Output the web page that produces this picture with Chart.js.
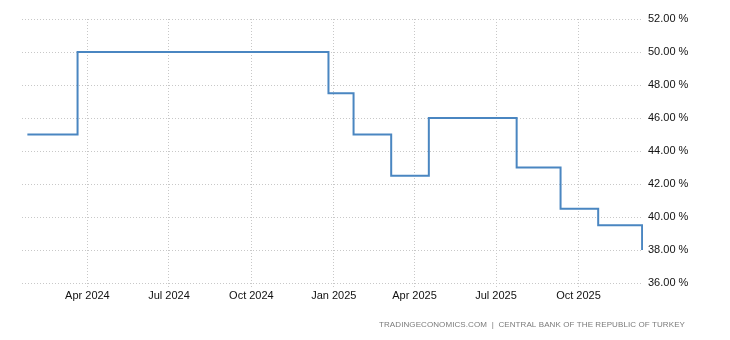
<!DOCTYPE html>
<html>
<head>
<meta charset="utf-8">
<script src="https://cdn.jsdelivr.net/npm/chart.js@4.4.1/dist/chart.umd.min.js"></script>
<style>
  html, body { margin: 0; padding: 0; background: #ffffff; }
  #wrap { position: relative; width: 730px; height: 340px; }
</style>
</head>
<body>
<div id="wrap"><canvas id="chartRate"></canvas></div>
<script>
// policy rate decisions (date, rate %)
const rateDates = ['2024-01-25', '2024-03-21', '2024-12-26', '2025-01-23', '2025-03-06',
                   '2025-04-17', '2025-07-24', '2025-09-11', '2025-10-23', '2025-12-11'];
const rateValues = [45, 50, 47.5, 45, 42.5, 46, 43, 40.5, 39.5, 38];

const tickDates = ['2024-04-01', '2024-07-01', '2024-10-01', '2025-01-01',
                   '2025-04-01', '2025-07-01', '2025-10-01'];
const tickLabels = ['Apr 2024', 'Jul 2024', 'Oct 2024', 'Jan 2025',
                    'Apr 2025', 'Jul 2025', 'Oct 2025'];

const rangeStart = '2024-01-19';
const rangeEnd = '2025-12-12';

const footerText = 'TRADINGECONOMICS.COM  |  CENTRAL BANK OF THE REPUBLIC OF TURKEY';

function day(s) { return Date.parse(s + 'T00:00:00Z') / 86400000; }

document.addEventListener('DOMContentLoaded', function() {

  Chart.defaults.font.family = "'Liberation Sans', Arial, sans-serif";
  Chart.defaults.color = '#111111';

  const points = rateDates.map(function(d, i) { return { x: day(d), y: rateValues[i] }; });
  const tickDays = tickDates.map(day);

  // footer source line, stretched to the source width
  const footer = {
    id: 'footer',
    afterDraw: function(chart) {
      const ctx = chart.ctx;
      ctx.save();
      ctx.font = "8px 'Liberation Sans', Arial, sans-serif";
      ctx.fillStyle = '#7a7a7a';
      ctx.textAlign = 'right';
      ctx.textBaseline = 'middle';
      const w = ctx.measureText(footerText).width;
      const extra = (306 - w) / footerText.length;
      if ('letterSpacing' in ctx && extra > 0) ctx.letterSpacing = extra.toFixed(2) + 'px';
      ctx.fillText(footerText, 685, 325);
      ctx.restore();
    }
  };

  new Chart(document.getElementById('chartRate'), {
    type: 'line',
    data: {
      datasets: [{
        data: points,
        borderColor: '#4a86c1',
        borderWidth: 2,
        stepped: true,
        pointRadius: 0,
        fill: false
      }]
    },
    options: {
      responsive: true,
      maintainAspectRatio: false,
      animation: false,
      layout: { padding: { left: 22, top: 19, right: 0, bottom: 0 } },
      plugins: {
        legend: { display: false },
        tooltip: { enabled: false }
      },
      scales: {
        x: {
          type: 'linear',
          min: day(rangeStart),
          max: day(rangeEnd),
          afterBuildTicks: function(scale) {
            scale.ticks = tickDays.map(function(v) { return { value: v }; });
          },
          afterFit: function(scale) { scale.height = 57; },
          grid: {
            color: '#c8c8c8',
            tickColor: '#c8c8c8',
            tickBorderDash: [1, 2],
            tickLength: 6
          },
          border: { display: false, dash: [1, 2] },
          ticks: {
            padding: 0,
            maxRotation: 0,
            font: { size: 11 },
            callback: function(value) {
              const i = tickDays.indexOf(value);
              return i >= 0 ? tickLabels[i] : '';
            }
          }
        },
        y: {
          position: 'right',
          min: 36,
          max: 52,
          afterFit: function(scale) { scale.width = 87; },
          grid: {
            color: '#c8c8c8',
            drawTicks: false
          },
          border: { display: false, dash: [1, 2] },
          ticks: {
            stepSize: 2,
            padding: 5,
            font: { size: 11 },
            callback: function(value) { return value.toFixed(2) + ' %'; }
          }
        }
      }
    },
    plugins: [footer]
  });

});
</script>
</body>
</html>
